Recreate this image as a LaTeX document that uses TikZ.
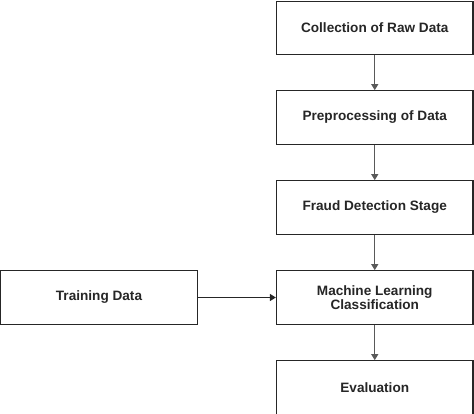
\documentclass[tikz,border=0pt]{standalone}
\usepackage{fontspec}
\setmainfont{Liberation Sans}
\usetikzlibrary{arrows.meta}
\begin{document}
\begin{tikzpicture}[x=1pt,y=-1pt,
  box/.style={draw=black!85,line width=1.2pt,minimum width=196.5pt,minimum height=53.5pt,inner sep=0pt,
    align=center,font=\fontsize{13.6}{14}\selectfont\bfseries,text=black!85},
  arr/.style={draw=black!65,line width=1.1pt,-{Triangle[length=6pt,width=7pt]}}]
\useasboundingbox (0,0) rectangle (474,414);
\node[box] (raw) at (374.75,28) {Collection of Raw Data};
\node[box] (pre) at (374.75,117.5) {Preprocessing of Data};
\node[box] (fraud) at (374.75,207.5) {Fraud Detection Stage};
\node[box] (ml) at (374.75,297.5) {Machine Learning\\Classification};
\node[box] (eval) at (374.75,387.5) {Evaluation};
\node[box,minimum width=197pt] (train) at (99,297.5) {Training Data};
\draw[arr] (raw) -- (pre);
\draw[arr] (pre) -- (fraud);
\draw[arr] (fraud) -- (ml);
\draw[arr] (ml) -- (eval);
\draw[arr,draw=black!85] (train) -- (ml);
\end{tikzpicture}
\end{document}
